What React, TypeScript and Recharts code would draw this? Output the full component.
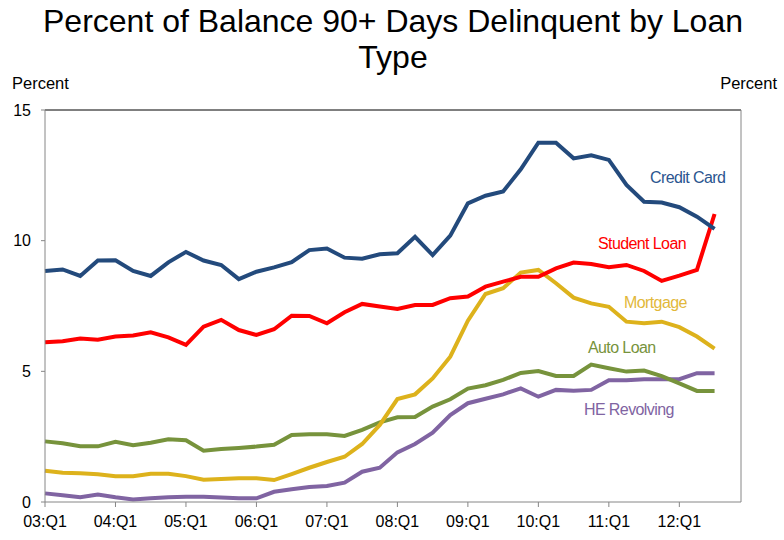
import { CartesianGrid, Line, LineChart, ReferenceLine, XAxis, YAxis } from "recharts";

const quarters = [
  "03:Q1", "03:Q2", "03:Q3", "03:Q4",
  "04:Q1", "04:Q2", "04:Q3", "04:Q4",
  "05:Q1", "05:Q2", "05:Q3", "05:Q4",
  "06:Q1", "06:Q2", "06:Q3", "06:Q4",
  "07:Q1", "07:Q2", "07:Q3", "07:Q4",
  "08:Q1", "08:Q2", "08:Q3", "08:Q4",
  "09:Q1", "09:Q2", "09:Q3", "09:Q4",
  "10:Q1", "10:Q2", "10:Q3", "10:Q4",
  "11:Q1", "11:Q2", "11:Q3", "11:Q4",
  "12:Q1", "12:Q2", "12:Q3",
];

const yearTicks = ["03:Q1", "04:Q1", "05:Q1", "06:Q1", "07:Q1", "08:Q1", "09:Q1", "10:Q1", "11:Q1", "12:Q1"];
const percentTicks = [0, 5, 10, 15];

const creditCard = [
  8.84, 8.9, 8.65, 9.24, 9.25, 8.84, 8.65, 9.17, 9.57, 9.24,
  9.07, 8.53, 8.81, 8.98, 9.18, 9.64, 9.7, 9.35, 9.31, 9.48,
  9.52, 10.15, 9.45, 10.19, 11.43, 11.72, 11.88, 12.73, 13.75, 13.75,
  13.15, 13.27, 13.09, 12.13, 11.49, 11.46, 11.28, 10.92, 10.45,
];
const studentLoan = [
  6.11, 6.15, 6.26, 6.21, 6.33, 6.37, 6.49, 6.3, 6.01, 6.71,
  6.97, 6.58, 6.39, 6.61, 7.13, 7.12, 6.84, 7.26, 7.58, 7.48,
  7.39, 7.54, 7.54, 7.8, 7.86, 8.24, 8.43, 8.62, 8.62, 8.94,
  9.16, 9.11, 8.98, 9.07, 8.84, 8.46, 8.66, 8.88, 11.02,
];
const mortgage = [
  1.2, 1.12, 1.1, 1.06, 0.99, 0.99, 1.08, 1.08, 0.99, 0.85,
  0.88, 0.91, 0.91, 0.84, 1.07, 1.31, 1.53, 1.73, 2.22, 2.95,
  3.94, 4.12, 4.73, 5.56, 6.94, 7.96, 8.18, 8.78, 8.88, 8.37,
  7.82, 7.6, 7.47, 6.9, 6.84, 6.9, 6.69, 6.33, 5.87,
];
const autoLoan = [
  2.32, 2.25, 2.13, 2.13, 2.3, 2.17, 2.27, 2.4, 2.36, 1.96,
  2.03, 2.07, 2.12, 2.19, 2.56, 2.59, 2.59, 2.53, 2.76, 3.05,
  3.24, 3.25, 3.65, 3.93, 4.34, 4.47, 4.67, 4.94, 5.01, 4.82,
  4.82, 5.26, 5.12, 4.99, 5.03, 4.82, 4.54, 4.25, 4.25,
];
const heRevolving = [
  0.33, 0.26, 0.18, 0.29, 0.18, 0.1, 0.14, 0.18, 0.2, 0.2,
  0.17, 0.14, 0.14, 0.39, 0.49, 0.57, 0.61, 0.74, 1.16, 1.31,
  1.9, 2.22, 2.65, 3.33, 3.78, 3.95, 4.12, 4.35, 4.03, 4.29,
  4.26, 4.29, 4.66, 4.66, 4.7, 4.7, 4.7, 4.93, 4.93,
];

const rows = quarters.map((q, idx) => ({
  idx,
  quarter: q,
  creditCard: creditCard[idx],
  studentLoan: studentLoan[idx],
  mortgage: mortgage[idx],
  autoLoan: autoLoan[idx],
  heRevolving: heRevolving[idx],
}));

const series = [
  { key: "heRevolving", color: "#8064A2" },
  { key: "autoLoan", color: "#77933C" },
  { key: "mortgage", color: "#DDB21C" },
  { key: "studentLoan", color: "#FF0000" },
  { key: "creditCard", color: "#234A7C" },
];

const labels = [
  { text: "Credit Card", x: 650, y: 183, color: "#2B558F" },
  { text: "Student Loan", x: 598, y: 249, color: "#FF0000" },
  { text: "Mortgage", x: 624, y: 308, color: "#E2B83A" },
  { text: "Auto Loan", x: 588, y: 353, color: "#77933C" },
  { text: "HE Revolving", x: 584, y: 415, color: "#8064A2" },
];

const font = "'Liberation Sans', Arial, sans-serif";
const axisGray = "#868686";
const tickStyle = { fontSize: 16, fill: "#000", fontFamily: font };

export default function App() {
  return (
    <div style={{ position: "absolute", left: 0, top: 0, width: 784, height: 540, background: "#fff" }}>
      <LineChart width={784} height={540} data={rows} margin={{ top: 110, right: 0, bottom: 0, left: 0 }}>
        <CartesianGrid horizontal={false} vertical={false} />
        <XAxis
          dataKey="idx"
          type="number"
          domain={[0, 39.5]}
          ticks={yearTicks.map((t) => quarters.indexOf(t))}
          tickFormatter={(v) => quarters[v]}
          height={38}
          stroke={axisGray}
          tickSize={5}
          tickMargin={9}
          tick={tickStyle}
          interval={0}
        />
        <YAxis
          yAxisId="left"
          domain={[0, 15]}
          ticks={percentTicks}
          width={45}
          stroke={axisGray}
          tickSize={4}
          tickMargin={10}
          tick={tickStyle}
        />
        <YAxis
          yAxisId="right"
          orientation="right"
          domain={[0, 15]}
          ticks={percentTicks}
          width={43}
          stroke={axisGray}
          tickSize={4}
          tickMargin={7}
          tick={{ ...tickStyle, textAnchor: "start" }}
        />
        <ReferenceLine yAxisId="left" y={15} stroke="#000" strokeWidth={1} />
        {series.map((s) => (
          <Line
            key={s.key}
            yAxisId="left"
            dataKey={s.key}
            type="linear"
            stroke={s.color}
            strokeWidth={4}
            dot={false}
            activeDot={false}
            isAnimationActive={false}
          />
        ))}
      </LineChart>
      <svg width={784} height={540} style={{ position: "absolute", left: 0, top: 0, pointerEvents: "none" }}>
        <g fontFamily={font}>
          <text x={393} y={32} fontSize={32} textAnchor="middle" fill="#000">
            Percent of Balance 90+ Days Delinquent by Loan
          </text>
          <text x={393} y={68} fontSize={32} textAnchor="middle" fill="#000">
            Type
          </text>
          <text x={12} y={89} fontSize={16.5} fill="#000">Percent</text>
          <text x={777} y={89} fontSize={16.5} textAnchor="end" fill="#000">Percent</text>
          {labels.map((l) => (
            <text key={l.text} x={l.x} y={l.y} fontSize={16} fill={l.color} letterSpacing={-0.6}>
              {l.text}
            </text>
          ))}
        </g>
      </svg>
    </div>
  );
}
